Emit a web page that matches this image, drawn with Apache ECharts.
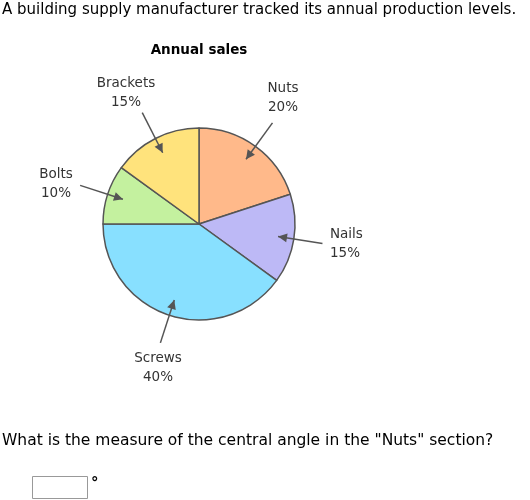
<!DOCTYPE html>
<html><head><meta charset="utf-8">
<script src="https://cdn.jsdelivr.net/npm/echarts@6/dist/echarts.min.js"></script>
<style>body{margin:0;background:#fff}#c{width:530px;height:500px}</style>
</head><body><div id="c"></div>
<script>
const categories=['Nuts','Nails','Screws','Bolts','Brackets'];
const values=[20,15,40,10,15];
const colors=['#FFB98A','#BDB9F6','#88E0FF','#C4F19F','#FFE37C'];
const cx=199,cy=224,r=96;
const total=values.reduce((a,b)=>a+b,0);
const g=[];
let acc=0;
const labelPos={Nuts:[283,98,'center'],Nails:[330,244,'left'],Screws:[158,368,'center'],Bolts:[56,184,'center'],Brackets:[126,93,'center']};
categories.forEach((c,i)=>{
  const mid=(acc+values[i]/2)/total*2*Math.PI; acc+=values[i];
  const s=Math.sin(mid),co=Math.cos(mid);
  const tip=[cx+s*80,cy-co*80],tail=[cx+s*125,cy-co*125];
  g.push({type:'line',shape:{x1:tail[0],y1:tail[1],x2:tip[0],y2:tip[1]},style:{stroke:'#555',lineWidth:1.5},z:10});
  const ang=Math.atan2(tip[1]-tail[1],tip[0]-tail[0]);
  const L=9,W=4.5;
  const b=[tip[0]-L*Math.cos(ang),tip[1]-L*Math.sin(ang)];
  g.push({type:'polygon',shape:{points:[tip,[b[0]+W*Math.sin(ang),b[1]-W*Math.cos(ang)],[b[0]-W*Math.sin(ang),b[1]+W*Math.cos(ang)]]},style:{fill:'#555'},z:10});
  const p=labelPos[c];
  g.push({type:'text',x:p[0],y:p[1],style:{text:c+'\n'+values[i]+'%',fill:'#333',font:'13.5px "DejaVu Sans"',align:p[2],verticalAlign:'middle',lineHeight:19},z:10});
});
g.push({type:'text',x:2,y:10,style:{text:'A building supply manufacturer tracked its annual production levels.',fill:'#000',font:'15px "DejaVu Sans"',verticalAlign:'middle'}});
g.push({type:'text',x:199,y:50,style:{text:'Annual sales',fill:'#000',font:'bold 13.5px "DejaVu Sans"',align:'center',verticalAlign:'middle'}});
g.push({type:'text',x:2,y:441,style:{text:'What is the measure of the central angle in the "Nuts" section?',fill:'#000',font:'15.5px "DejaVu Sans"',verticalAlign:'middle'}});
g.push({type:'rect',shape:{x:32.5,y:476.5,width:55,height:22},style:{fill:'#fff',stroke:'#999',lineWidth:1}});
g.push({type:'text',x:91,y:484,style:{text:'°',fill:'#000',font:'bold 15px "DejaVu Sans"',verticalAlign:'middle'}});
const chart=echarts.init(document.getElementById('c'));
chart.setOption({animation:false,graphic:g,series:[{type:'pie',center:[cx,cy],radius:r,startAngle:90,clockwise:true,label:{show:false},labelLine:{show:false},
 itemStyle:{borderColor:'#555',borderWidth:1.5},emphasis:{disabled:true},
 data:categories.map((c,i)=>({name:c,value:values[i],itemStyle:{color:colors[i]}}))}]});
</script></body></html>
